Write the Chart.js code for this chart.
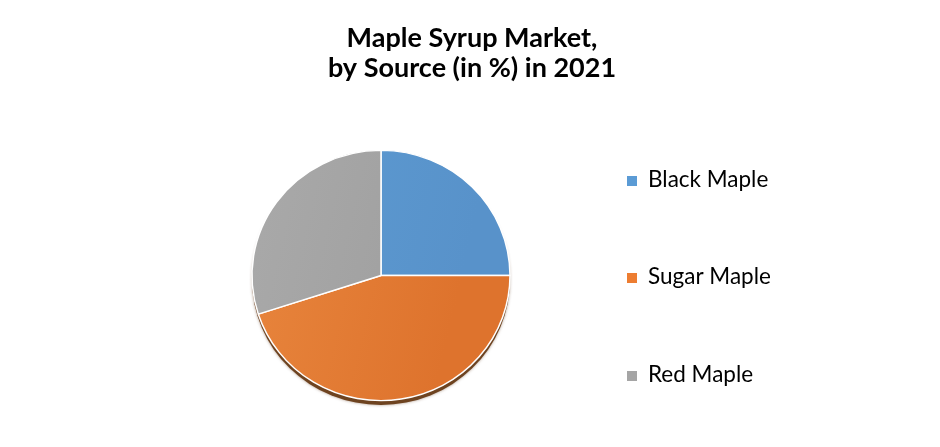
<!DOCTYPE html>
<html>
<head>
<meta charset="utf-8">
<script src="https://cdn.jsdelivr.net/npm/chart.js@4"></script>
<style>
  html, body { margin: 0; padding: 0; background: #fff; }
  #wrap { width: 940px; height: 447px; position: relative; }
</style>
</head>
<body>
<div id="wrap"><canvas id="myChart"></canvas></div>
<script>
var titleLines = ['Maple Syrup Market,', 'by Source (in %) in 2021'];
var sources = ['Black Maple', 'Sugar Maple', 'Red Maple'];
var shares = [25, 45, 30];
var colors = ['#5B9BD5', '#ED7D31', '#A5A5A5'];
var lightColors = ['#5E9DD4', '#EA8940', '#ABABAB'];
var darkColors = ['#5892CA', '#DE732D', '#9E9E9E'];

var squash = 0.97; // slight tilt of the pie

function sliceFill(ctx) {
  var chart = ctx.chart;
  var area = chart.chartArea;
  if (!area) return colors[ctx.dataIndex];
  var g = chart.ctx.createLinearGradient(area.left + 250, 0, area.left + 512, 60);
  g.addColorStop(0, lightColors[ctx.dataIndex]);
  g.addColorStop(1, darkColors[ctx.dataIndex]);
  return g;
}

// flatten the pie a touch and put a brown rim under it
var pieShadow = {
  id: 'pieShadow',
  beforeDatasetsDraw: function(chart) {
    var arc = chart.getDatasetMeta(0).data[0];
    if (!arc) return;
    var c = chart.ctx;
    c.save();
    c.translate(0, arc.y);
    c.scale(1, squash);
    c.translate(0, -arc.y);
    c.save();
    c.beginPath();
    c.arc(arc.x, arc.y + 4.5, arc.outerRadius, 0, Math.PI * 2);
    c.fillStyle = '#6E4320';
    c.shadowColor = 'rgba(90,50,20,0.5)';
    c.shadowBlur = 3;
    c.fill();
    c.restore();
  },
  afterDatasetsDraw: function(chart) {
    chart.ctx.restore();
  }
};

// title and legend drawn over the whole canvas
var sideText = {
  id: 'sideText',
  afterDraw: function(chart) {
    var c = chart.ctx;
    var rows = [187, 284, 382];
    c.save();
    c.textAlign = 'center';
    c.textBaseline = 'alphabetic';
    c.fillStyle = '#000';
    c.font = 'bold 27px Lato';
    c.fillText(titleLines[0], 472, 47);
    c.fillText(titleLines[1], 472, 77);
    c.textAlign = 'left';
    c.font = '22.5px Lato';
    chart.data.labels.forEach(function(label, i) {
      c.fillStyle = colors[i];
      c.fillRect(627, rows[i] - 11, 10, 10);
      c.fillStyle = '#000';
      c.fillText(label, 648, rows[i]);
    });
    c.restore();
  }
};

var contx = document.getElementById('myChart').getContext('2d');
var myChart = new Chart(contx, {
  type: 'pie',
  data: {
    labels: sources,
    datasets: [{
      data: shares,
      backgroundColor: sliceFill,
      borderColor: '#ffffff',
      borderWidth: 1.5,
      radius: 129
    }]
  },
  options: {
    responsive: true,
    maintainAspectRatio: false,
    animation: false,
    layout: { padding: { left: 0, right: 178, top: 104, bottom: 0 } },
    plugins: {
      legend: { display: false },
      tooltip: { enabled: false },
      title: { display: false }
    }
  },
  plugins: [pieShadow, sideText]
});
</script>
</body>
</html>
